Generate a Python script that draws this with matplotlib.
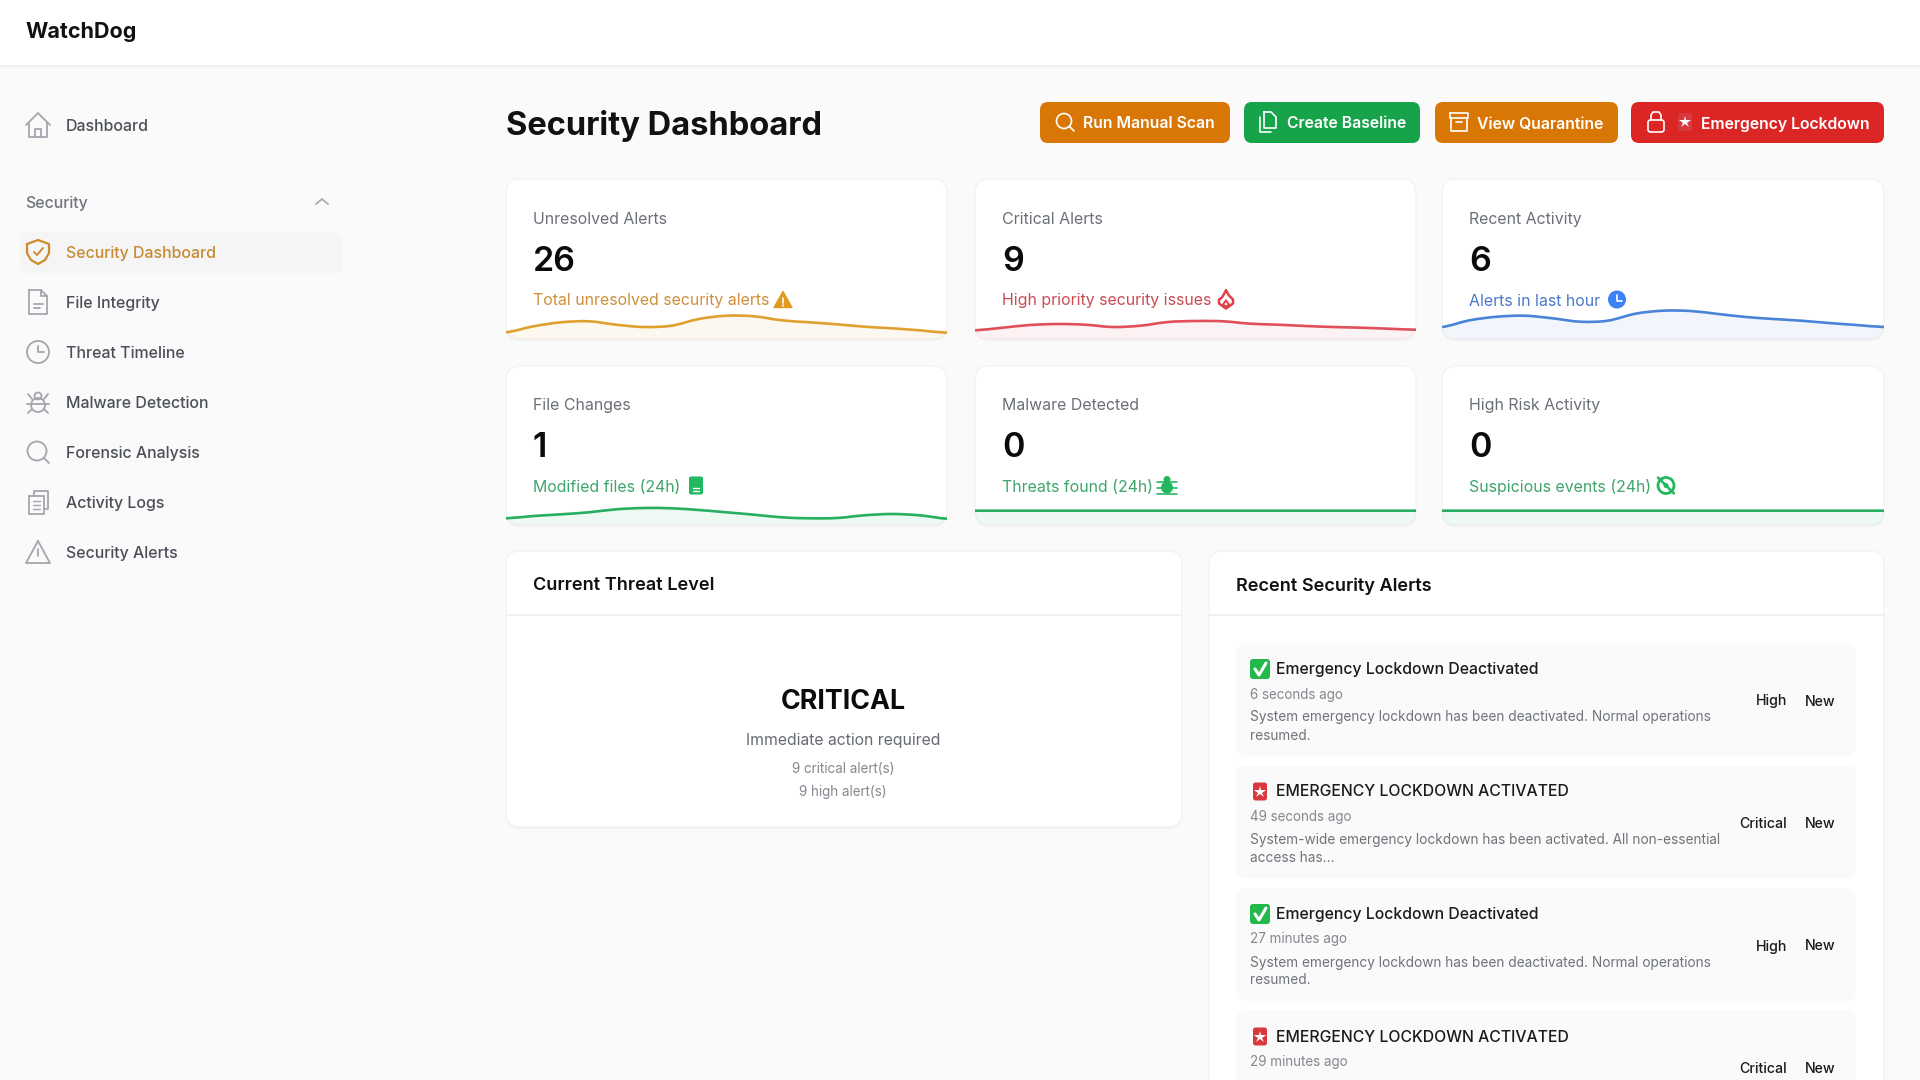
import matplotlib
matplotlib.use('Agg')

import numpy as np
import matplotlib.pyplot as plt
from matplotlib.patches import FancyBboxPatch, Circle, Polygon, PathPatch
from matplotlib.path import Path

plt.rcParams['font.family'] = ['Inter', 'DejaVu Sans']

# sidebar
NAV_ITEMS = ['Security Dashboard', 'File Integrity', 'Threat Timeline', 'Malware Detection',
             'Forensic Analysis', 'Activity Logs', 'Security Alerts']

# header buttons
BTN_LABELS = ['Run Manual Scan', 'Create Baseline', 'View Quarantine', 'Emergency Lockdown']

# stat cards
CARD_TITLES = ['Unresolved Alerts', 'Critical Alerts', 'Recent Activity',
               'File Changes', 'Malware Detected', 'High Risk Activity']
CARD_VALUES = [26, 9, 6, 1, 0, 0]
CARD_NOTES = ['Total unresolved security alerts', 'High priority security issues', 'Alerts in last hour',
              'Modified files (24h)', 'Threats found (24h)', 'Suspicious events (24h)']

# sparkline heights (px above the bottom of the card)
SPARK_UNRESOLVED = [6.7, 12.7, 16.7, 17.7, 14.3, 12, 13.3, 20, 23.3, 22.7, 18.7, 16.7, 14.7, 12.3, 10.7, 8.7, 6.3]
SPARK_CRITICAL = [8.7, 11.3, 14, 15, 14.3, 12, 13.3, 17, 18, 17.7, 15.3, 14.3, 13, 12, 11.3, 10.3, 9.3]
SPARK_RECENT = [12, 18.7, 22.3, 23.3, 20.7, 17.3, 18.3, 25.3, 28.3, 28, 25, 22, 20, 18.3, 16, 14, 12]
SPARK_FILES = [6.7, 9, 10.7, 12.7, 15.7, 17, 16.7, 15, 12.7, 10.3, 7.7, 6.7, 7, 9.7, 11, 9.7, 6.3]
SPARK_MALWARE = [14.3] * 17
SPARK_RISK = [14.3] * 17

# threat panel
THREAT_LEVEL = 'CRITICAL'
THREAT_LINES = ['9 critical alert(s)', '9 high alert(s)']

# alerts list
ALERT_TITLES = ['Emergency Lockdown Deactivated', 'EMERGENCY LOCKDOWN ACTIVATED',
                'Emergency Lockdown Deactivated', 'EMERGENCY LOCKDOWN ACTIVATED']
ALERT_TIMES = ['6 seconds ago', '49 seconds ago', '27 minutes ago', '29 minutes ago']
ALERT_DESC = [['System emergency lockdown has been deactivated. Normal operations', 'resumed.'],
              ['System-wide emergency lockdown has been activated. All non-essential', 'access has...'],
              ['System emergency lockdown has been deactivated. Normal operations', 'resumed.'],
              []]
ALERT_SEVERITY = ['High', 'Critical', 'High', 'Critical']

ORANGE = '#d97706'
GREEN = '#16a34a'
RED = '#dc2626'
BLUE = '#3b82f6'
ICON_GRAY = '#a3a6ad'

fig = plt.figure(figsize=(19.2, 10.8), dpi=100, facecolor='#fafafa')
ax = fig.add_axes([0, 0, 1, 1])
ax.set_xlim(0, 1920)
ax.set_ylim(1080, 0)
ax.axis('off')


def box(x0, y0, x1, y1, r, fc, ec='none', lw=0, z=1):
    p = FancyBboxPatch((x0, y0), x1 - x0, y1 - y0, boxstyle=f'round,pad=0,rounding_size={r}',
                       fc=fc, ec=ec, lw=lw, zorder=z)
    ax.add_patch(p)
    return p


def txt(x, y, s, size, color, weight='normal', ha='left'):
    ax.text(x, y, s, fontsize=size, color=color, fontweight=weight, ha=ha, va='center_baseline', zorder=6)


def line(xs, ys, color=ICON_GRAY, lw=1.3, z=5):
    ax.plot(xs, ys, color=color, lw=lw, solid_capstyle='round', solid_joinstyle='round', zorder=z)


def ring(x, y, r, color=ICON_GRAY, lw=1.3, fc='none'):
    ax.add_patch(Circle((x, y), r, fc=fc, ec=color, lw=lw, zorder=5))


def smooth_path(xs, ys):
    # bezier through the read points so the line has no corners
    verts = [(xs[0], ys[0])]
    for i in range(len(xs) - 1):
        y_prev = ys[max(i - 1, 0)]
        y_next = ys[min(i + 2, len(ys) - 1)]
        verts.append((xs[i] + 1 / 3, ys[i] + (ys[i + 1] - y_prev) / 6))
        verts.append((xs[i + 1] - 1 / 3, ys[i + 1] - (y_next - ys[i]) / 6))
        verts.append((xs[i + 1], ys[i + 1]))
    return verts


def ico_house(x, y):
    line([x-12, x, x+12], [y, y-12, y])
    line([x-9, x-9, x+9, x+9], [y-2, y+12, y+12, y-2])
    line([x-3, x-3, x+3, x+3], [y+12, y+4, y+4, y+12])


def ico_shield(x, y, c):
    line([x-11, x, x+11, x+11, x+7, x, x-7, x-11, x-11], [y-8, y-12, y-8, y+1, y+8, y+12, y+8, y+1, y-8], c, 1.6)
    line([x-4, x-1, x+5], [y, y+3, y-4], c, 1.4)


def ico_doc(x, y):
    line([x-9, x+3, x+9, x+9, x-9, x-9], [y-12, y-12, y-6, y+12, y+12, y-12])
    line([x+3, x+3, x+9], [y-12, y-6, y-6])
    line([x-4, x+5], [y+2, y+2])
    line([x-4, x+2], [y+6, y+6])


def ico_clock(x, y):
    ring(x, y, 11)
    line([x, x, x+6], [y-6, y, y])


def ico_bug(x, y):
    ring(x, y+3, 7)
    ring(x, y-6, 3.5)
    line([x-10, x-6], [y-8, y-3])
    line([x+10, x+6], [y-8, y-3])
    line([x-11, x+11], [y+2, y+2])
    line([x-10, x-6], [y+11, y+7])
    line([x+10, x+6], [y+11, y+7])


def ico_search(x, y, c=ICON_GRAY, lw=1.3, r=9.5):
    ring(x-1, y-1, r, c, lw)
    d = r * 0.7
    line([x-1+d, x+r+1.5], [y-1+d, y+r+1.5], c, lw)


def ico_logs(x, y):
    line([x-9, x+6, x+6, x-9, x-9], [y-6, y-6, y+12, y+12, y-6])
    line([x-4, x-4, x+10, x+10, x+6], [y-6, y-11, y-11, y+7, y+7])
    for dy in (-1, 3, 7):
        line([x-5, x+2], [y+dy, y+dy], lw=1)


def ico_triangle(x, y, c=ICON_GRAY):
    line([x, x+12, x-12, x], [y-11, y+11, y+11, y-11], c)
    line([x, x], [y-3, y+4], c)
    line([x, x], [y+7, y+7.3], c)


def ico_warning(x, y, c):
    ax.add_patch(Polygon([[x, y-8], [x+9, y+8], [x-9, y+8]], fc=c, ec=c, lw=1, joinstyle='round', zorder=5))
    line([x, x], [y-2, y+3], 'white', 1.2, 6)
    line([x, x], [y+5.5, y+6], 'white', 1.2, 6)


def ico_flame(x, y, c):
    line([x, x+3, x+7, x+7, x, x-7, x-7, x-4, x], [y-9, y-4, y, y+4, y+9, y+4, y, y-2, y-9], c, 1.8)
    line([x, x+3, x, x-3, x], [y+1, y+5, y+7, y+5, y+1], c, 1.4)


def ico_clock_fill(x, y, c):
    ring(x, y, 9, c, 0, c)
    line([x, x, x+5], [y-5, y+1, y+1], 'white', 1.2, 6)


def ico_file_fill(x, y, c):
    box(x-7, y-9, x+7, y+9, 2, c, z=5)
    line([x-3, x+3], [y+2, y+2], 'white', 1, 6)
    line([x-3, x+3], [y+5, y+5], 'white', 1, 6)


def ico_bug_fill(x, y, c):
    ax.add_patch(Circle((x, y+2), 6, fc=c, ec='none', zorder=5))
    ax.add_patch(Circle((x, y-6), 3.5, fc=c, ec='none', zorder=5))
    for dy in (-4, 2, 8):
        line([x-10, x+10], [y+dy, y+dy], c, 1.2)


def ico_eye_off(x, y, c):
    ring(x, y, 8, c, 2)
    ring(x, y, 2.5, c, 0, c)
    line([x-8, x+8], [y-8, y+8], c, 1.8)


def ico_copy(x, y):
    line([x-4, x+3, x+8, x+8, x-4, x-4], [y-10, y-10, y-5, y+6, y+6, y-10], 'white', 1.2)
    line([x-8, x-8, x+3], [y-5, y+10, y+10], 'white', 1.2)


def ico_archive(x, y):
    line([x-9, x+9, x+9, x-9, x-9], [y-9, y-9, y-4, y-4, y-9], 'white', 1.2)
    line([x-8, x-8, x+8, x+8], [y-4, y+9, y+9, y-4], 'white', 1.2)
    line([x-3, x+3], [y, y], 'white', 1.2)


def ico_lock(x, y):
    box(x-8, y-2, x+8, y+10, 2.5, 'none', 'white', 1.2, z=5)
    line([x-5, x-5, x-3, x+3, x+5, x+5], [y-2, y-7, y-10, y-10, y-7, y-2], 'white', 1.2)


def emoji_siren(x, y, h=9):
    box(x-7, y-h, x+7, y+h, 2.5, '#d9383c', z=5)
    ax.plot([x], [y], marker='*', ms=9, color='white', mew=0, zorder=6)


def emoji_check(x, y):
    box(x-10, y-10, x+10, y+10, 3, '#22b84a', z=5)
    line([x-5, x-1, x+6], [y, y+6, y-6], 'white', 2.2, 6)


# top bar
ax.fill_between([0, 1920], 0, 66, color='white', lw=0, zorder=1)
ax.plot([0, 1920], [66, 66], color='#efefef', lw=1.2, zorder=2)
txt(25, 30, 'WatchDog', 15.5, '#111111', 'bold')

# sidebar
ico_house(38, 125)
txt(66, 125, 'Dashboard', 11.45, '#4b4f58', 500)
txt(25, 202, 'Security', 11.45, '#71757e', 500)
line([316, 322, 328], [204, 199, 204], '#a8abb1', 1.3)
box(20, 232, 342, 273, 8, '#f5f5f6')
icons = [lambda x, y: ico_shield(x, y, '#cf8a2e'), ico_doc, ico_clock, ico_bug, ico_search, ico_logs, ico_triangle]
for i, name in enumerate(NAV_ITEMS):
    y = 252 + 50 * i
    icons[i](38, y)
    txt(66, y, name, 11.45, '#c98a34' if i == 0 else '#4b4f58', 500)

# page title and buttons
txt(506, 122.5, 'Security Dashboard', 23.5, '#111111', 'bold')
btn_x = [(1040, 1230), (1244, 1420), (1435, 1618), (1631, 1884)]
btn_text_x = [1083, 1287, 1477, 1701]
btn_col = [ORANGE, GREEN, ORANGE, RED]
for i, label in enumerate(BTN_LABELS):
    box(btn_x[i][0], 102, btn_x[i][1], 143, 8, btn_col[i])
    txt(btn_text_x[i], 122.5, label, 11.35, 'white', 600)
ico_search(1065, 122, 'white', 1.2, 7.5)
ico_copy(1268, 122)
ico_archive(1459, 122)
ico_lock(1656, 122)
emoji_siren(1685, 122)

# stat cards
col_x = [(506, 947), (975, 1416), (1442, 1884)]
row_y = [(179, 339), (366, 525)]
note_col = ['#cf8f3a', '#cb4b52', '#4a78c8', '#3fa56c', '#3fa56c', '#3fa56c']
line_col = ['#e0a030', '#e0505a', '#4b83d8', '#27ae60', '#27ae60', '#27ae60']
sparks = [SPARK_UNRESOLVED, SPARK_CRITICAL, SPARK_RECENT, SPARK_FILES, SPARK_MALWARE, SPARK_RISK]
note_icons = [(ico_warning, '#e09a20'), (ico_flame, '#e0404a'), (ico_clock_fill, BLUE),
              (ico_file_fill, '#22b860'), (ico_bug_fill, '#22b860'), (ico_eye_off, '#22b860')]
note_icon_x = [783, 1226, 1617, 696, 1167, 1666]

for i in range(6):
    x0, x1 = col_x[i % 3]
    y0, y1 = row_y[i // 3]
    box(x0, y0 + 2, x1, y1 + 2, 14, '#f0f0f1', z=1)
    card = box(x0, y0, x1, y1, 14, 'white', '#f3f3f4', 1, z=2)
    tx = x0 + 27
    ty = y0 - (1 if i > 2 else 0)
    txt(tx, ty + 39, CARD_TITLES[i], 11.45, '#6b6f78')
    txt(tx, ty + 79.5, str(CARD_VALUES[i]), 24.5, '#0b0b0c', 600)
    txt(tx, ty + 120.5, CARD_NOTES[i], 11.45, note_col[i])
    note_icons[i][0](note_icon_x[i], ty + 120.5, note_icons[i][1])

    h = y1 - y0
    spark = fig.add_axes([x0 / 1920, 1 - y1 / 1080, (x1 - x0) / 1920, h / 1080])
    spark.patch.set_alpha(0)
    spark.set_xlim(0, 16)
    spark.set_ylim(0, h)
    spark.axis('off')
    xs = np.arange(17)
    verts = smooth_path(xs, sparks[i])
    codes = [Path.MOVETO] + [Path.CURVE4] * (len(verts) - 1)
    area = PathPatch(Path(verts + [(16, 0), (0, 0), verts[0]], codes + [Path.LINETO, Path.LINETO, Path.CLOSEPOLY]),
                     fc=line_col[i], ec='none', alpha=0.07)
    spark.add_patch(area)
    area.set_clip_path(card)
    spark.add_patch(PathPatch(Path(verts, codes), fc='none', ec=line_col[i], lw=1.9, capstyle='butt'))

# threat panel
box(506, 553, 1182, 829, 14, '#f0f0f1', z=1)
box(506, 551, 1182, 827, 14, 'white', '#f3f3f4', 1, z=2)
ax.plot([506, 1182], [615, 615], color='#f0f0f1', lw=1.4, zorder=3)
txt(533, 584, 'Current Threat Level', 13.05, '#111111', 600)
txt(843, 699, THREAT_LEVEL, 19.3, '#0b0b0c', 'bold', 'center')
txt(843, 738.5, 'Immediate action required', 11.35, '#666a73', 'normal', 'center')
txt(843, 767.5, THREAT_LINES[0], 9.7, '#85888f', 'normal', 'center')
txt(843, 790.5, THREAT_LINES[1], 9.7, '#85888f', 'normal', 'center')

# alerts panel
box(1209, 553, 1884, 1100, 14, '#f0f0f1', z=1)
box(1209, 551, 1884, 1100, 14, 'white', '#f3f3f4', 1, z=2)
ax.plot([1209, 1884], [615, 615], color='#f0f0f1', lw=1.4, zorder=3)
txt(1236, 584, 'Recent Security Alerts', 13.05, '#111111', 600)
for i, title in enumerate(ALERT_TITLES):
    dy = 122.5 * i
    box(1236, 643 + dy, 1856, 756 + dy, 10, '#fafafa', z=3)
    if i % 2 == 0:
        emoji_check(1260, 669 + dy)
    else:
        emoji_siren(1260, 669 + dy)
    txt(1276, 668 + dy, title, 11.35, '#1a1a1c', 500)
    txt(1250, 693 + dy, ALERT_TIMES[i], 9.7, '#85888f')
    for j, part in enumerate(ALERT_DESC[i]):
        txt(1250, 716 + 18 * j + dy, part, 9.84, '#6f737b')
    txt(1787, 700 + dy, ALERT_SEVERITY[i], 10.2, '#1a1a1c', 500, 'right')
    txt(1805, 700 + dy, 'New', 10.2, '#1a1a1c', 500)

plt.savefig('out.png', dpi=100, facecolor=fig.get_facecolor())
